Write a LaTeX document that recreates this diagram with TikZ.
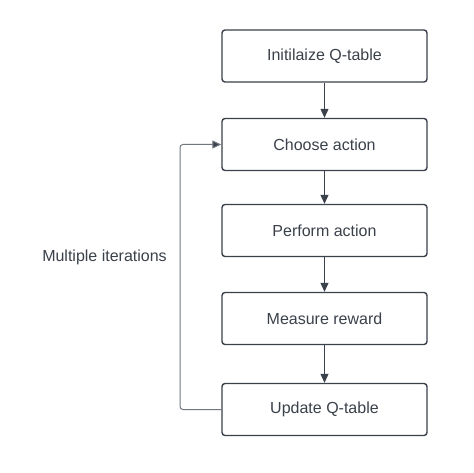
\documentclass[tikz,border=0pt]{standalone}
\usepackage{fontspec}
\setmainfont{Liberation Sans}
\usetikzlibrary{arrows.meta}
\definecolor{ink}{HTML}{3A414A}
\definecolor{loopc}{HTML}{707780}
\begin{document}
\begin{tikzpicture}[x=1pt,y=-1pt,
  stepbox/.style={draw=ink, line width=1.4pt, rounded corners=3pt, minimum width=205pt, minimum height=52pt, inner sep=0pt, font=\fontsize{16}{19}\selectfont, text=ink},
  flow/.style={draw=ink, line width=1pt, -{Triangle[length=9pt,width=8pt]}},
  loopline/.style={draw=loopc, line width=1pt, rounded corners=3pt, -{Triangle[length=9pt,width=8pt]}, arrows={-{Triangle[length=9pt,width=8pt,fill=ink]}}}]
\useasboundingbox[fill=white] (0,0) rectangle (474,473);
\node[stepbox] (init) at (324.5,56) {Initilaize Q-table};
\node[stepbox] (choose) at (324.5,144.5) {Choose action};
\node[stepbox] (perform) at (324.5,230.5) {Perform action};
\node[stepbox] (measure) at (324.5,318.5) {Measure reward};
\node[stepbox] (update) at (324.5,409.5) {Update Q-table};
\node[font=\fontsize{16}{19}\selectfont, text=ink] (lbl) at (104.5,257) {Multiple iterations};
\draw[flow] (init) -- (choose);
\draw[flow] (choose) -- (perform);
\draw[flow] (perform) -- (measure);
\draw[flow] (measure) -- (update);
\coordinate (lb) at (180,409.5);
\coordinate (lt) at (180,144.5);
\draw[loopline] (update.west) -- (lb) -- (lt) -- (choose.west);
\end{tikzpicture}
\end{document}
